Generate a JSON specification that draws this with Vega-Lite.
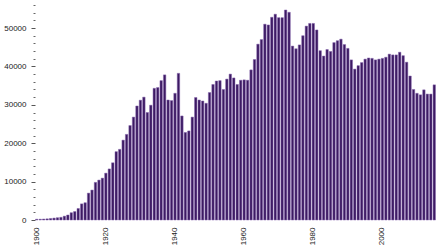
{
  "$schema": "https://vega.github.io/schema/vega-lite/v6.json",
  "width": 401,
  "height": 215,
  "autosize": {"type": "none"},
  "padding": {"left": 35, "top": 5, "right": 10, "bottom": 32},
  "data": {"values": [
    {"year": 1900, "value": 200}, {"year": 1901, "value": 200}, {"year": 1902, "value": 250}, {"year": 1903, "value": 300},
    {"year": 1904, "value": 400}, {"year": 1905, "value": 500}, {"year": 1906, "value": 600}, {"year": 1907, "value": 700},
    {"year": 1908, "value": 1000}, {"year": 1909, "value": 1300}, {"year": 1910, "value": 1900}, {"year": 1911, "value": 2200},
    {"year": 1912, "value": 3000}, {"year": 1913, "value": 4200}, {"year": 1914, "value": 4500}, {"year": 1915, "value": 7000},
    {"year": 1916, "value": 7800}, {"year": 1917, "value": 9800}, {"year": 1918, "value": 10400}, {"year": 1919, "value": 10900},
    {"year": 1920, "value": 12200}, {"year": 1921, "value": 13300}, {"year": 1922, "value": 14900}, {"year": 1923, "value": 17800},
    {"year": 1924, "value": 18400}, {"year": 1925, "value": 20800}, {"year": 1926, "value": 22300}, {"year": 1927, "value": 24600},
    {"year": 1928, "value": 26800}, {"year": 1929, "value": 29700}, {"year": 1930, "value": 31200}, {"year": 1931, "value": 32000},
    {"year": 1932, "value": 28000}, {"year": 1933, "value": 29900}, {"year": 1934, "value": 34300}, {"year": 1935, "value": 34500},
    {"year": 1936, "value": 36300}, {"year": 1937, "value": 37800}, {"year": 1938, "value": 31250}, {"year": 1939, "value": 31100},
    {"year": 1940, "value": 33000}, {"year": 1941, "value": 38200}, {"year": 1942, "value": 27100}, {"year": 1943, "value": 22800},
    {"year": 1944, "value": 23200}, {"year": 1945, "value": 26800}, {"year": 1946, "value": 31900}, {"year": 1947, "value": 31250},
    {"year": 1948, "value": 31000}, {"year": 1949, "value": 30400}, {"year": 1950, "value": 33200}, {"year": 1951, "value": 35300},
    {"year": 1952, "value": 36200}, {"year": 1953, "value": 36300}, {"year": 1954, "value": 34000}, {"year": 1955, "value": 36700},
    {"year": 1956, "value": 38000}, {"year": 1957, "value": 37000}, {"year": 1958, "value": 35300}, {"year": 1959, "value": 36400},
    {"year": 1960, "value": 36500}, {"year": 1961, "value": 36400}, {"year": 1962, "value": 39100}, {"year": 1963, "value": 41800},
    {"year": 1964, "value": 45800}, {"year": 1965, "value": 47000}, {"year": 1966, "value": 51000}, {"year": 1967, "value": 50800},
    {"year": 1968, "value": 52800}, {"year": 1969, "value": 53600}, {"year": 1970, "value": 52700}, {"year": 1971, "value": 52700},
    {"year": 1972, "value": 54700}, {"year": 1973, "value": 54100}, {"year": 1974, "value": 45300}, {"year": 1975, "value": 44600},
    {"year": 1976, "value": 45600}, {"year": 1977, "value": 48000}, {"year": 1978, "value": 50500}, {"year": 1979, "value": 51200},
    {"year": 1980, "value": 51200}, {"year": 1981, "value": 49500}, {"year": 1982, "value": 44100}, {"year": 1983, "value": 42700},
    {"year": 1984, "value": 44400}, {"year": 1985, "value": 43900}, {"year": 1986, "value": 46200}, {"year": 1987, "value": 46700},
    {"year": 1988, "value": 47100}, {"year": 1989, "value": 45700}, {"year": 1990, "value": 44700}, {"year": 1991, "value": 41700},
    {"year": 1992, "value": 39300}, {"year": 1993, "value": 40200}, {"year": 1994, "value": 41000}, {"year": 1995, "value": 41900},
    {"year": 1996, "value": 42200}, {"year": 1997, "value": 42100}, {"year": 1998, "value": 41700}, {"year": 1999, "value": 41900},
    {"year": 2000, "value": 42100}, {"year": 2001, "value": 42400}, {"year": 2002, "value": 43200}, {"year": 2003, "value": 43000},
    {"year": 2004, "value": 43000}, {"year": 2005, "value": 43700}, {"year": 2006, "value": 42800}, {"year": 2007, "value": 41100},
    {"year": 2008, "value": 37500}, {"year": 2009, "value": 34000}, {"year": 2010, "value": 33000}, {"year": 2011, "value": 32600},
    {"year": 2012, "value": 33900}, {"year": 2013, "value": 32800}, {"year": 2014, "value": 32800}, {"year": 2015, "value": 35200}
  ]},
  "encoding": {
    "x": {
      "field": "year",
      "type": "ordinal",
      "scale": {"paddingInner": 0.3, "paddingOuter": 0.15},
      "axis": {
        "title": null,
        "values": [1900, 1920, 1940, 1960, 1980, 2000],
        "labelAngle": -90,
        "labelFontSize": 8,
        "labelFont": "Liberation Sans",
        "labelColor": "#222",
        "labelPadding": 7,
        "ticks": false,
        "domain": false,
        "grid": false
      }
    }
  },
  "layer": [
    {
      "mark": {"type": "bar", "fill": "#3c1a62", "stroke": "#8462ad", "strokeWidth": 0.5},
      "encoding": {
        "y": {
          "field": "value",
          "type": "quantitative",
          "scale": {"domain": [0, 56000], "nice": false},
          "axis": {
            "title": null,
            "orient": "left",
            "values": [0, 10000, 20000, 30000, 40000, 50000],
            "format": "d",
            "grid": false,
            "domain": false,
            "tickSize": 4,
            "tickColor": "#555",
            "labelFontSize": 8,
            "labelFont": "Liberation Sans",
            "labelColor": "#222",
            "labelPadding": 5
          }
        }
      }
    },
    {
      "mark": {"type": "bar", "opacity": 0},
      "encoding": {
        "y": {
          "field": "value",
          "type": "quantitative",
          "axis": {
            "title": null,
            "orient": "left",
            "values": [2000, 4000, 6000, 8000, 12000, 14000, 16000, 18000, 22000, 24000, 26000, 28000, 32000, 34000, 36000, 38000, 42000, 44000, 46000, 48000, 52000, 54000, 56000],
            "labels": false,
            "grid": false,
            "domain": false,
            "tickSize": 2,
            "tickColor": "#666"
          }
        }
      }
    }
  ],
  "resolve": {"axis": {"y": "independent"}},
  "config": {"view": {"stroke": null}}
}
